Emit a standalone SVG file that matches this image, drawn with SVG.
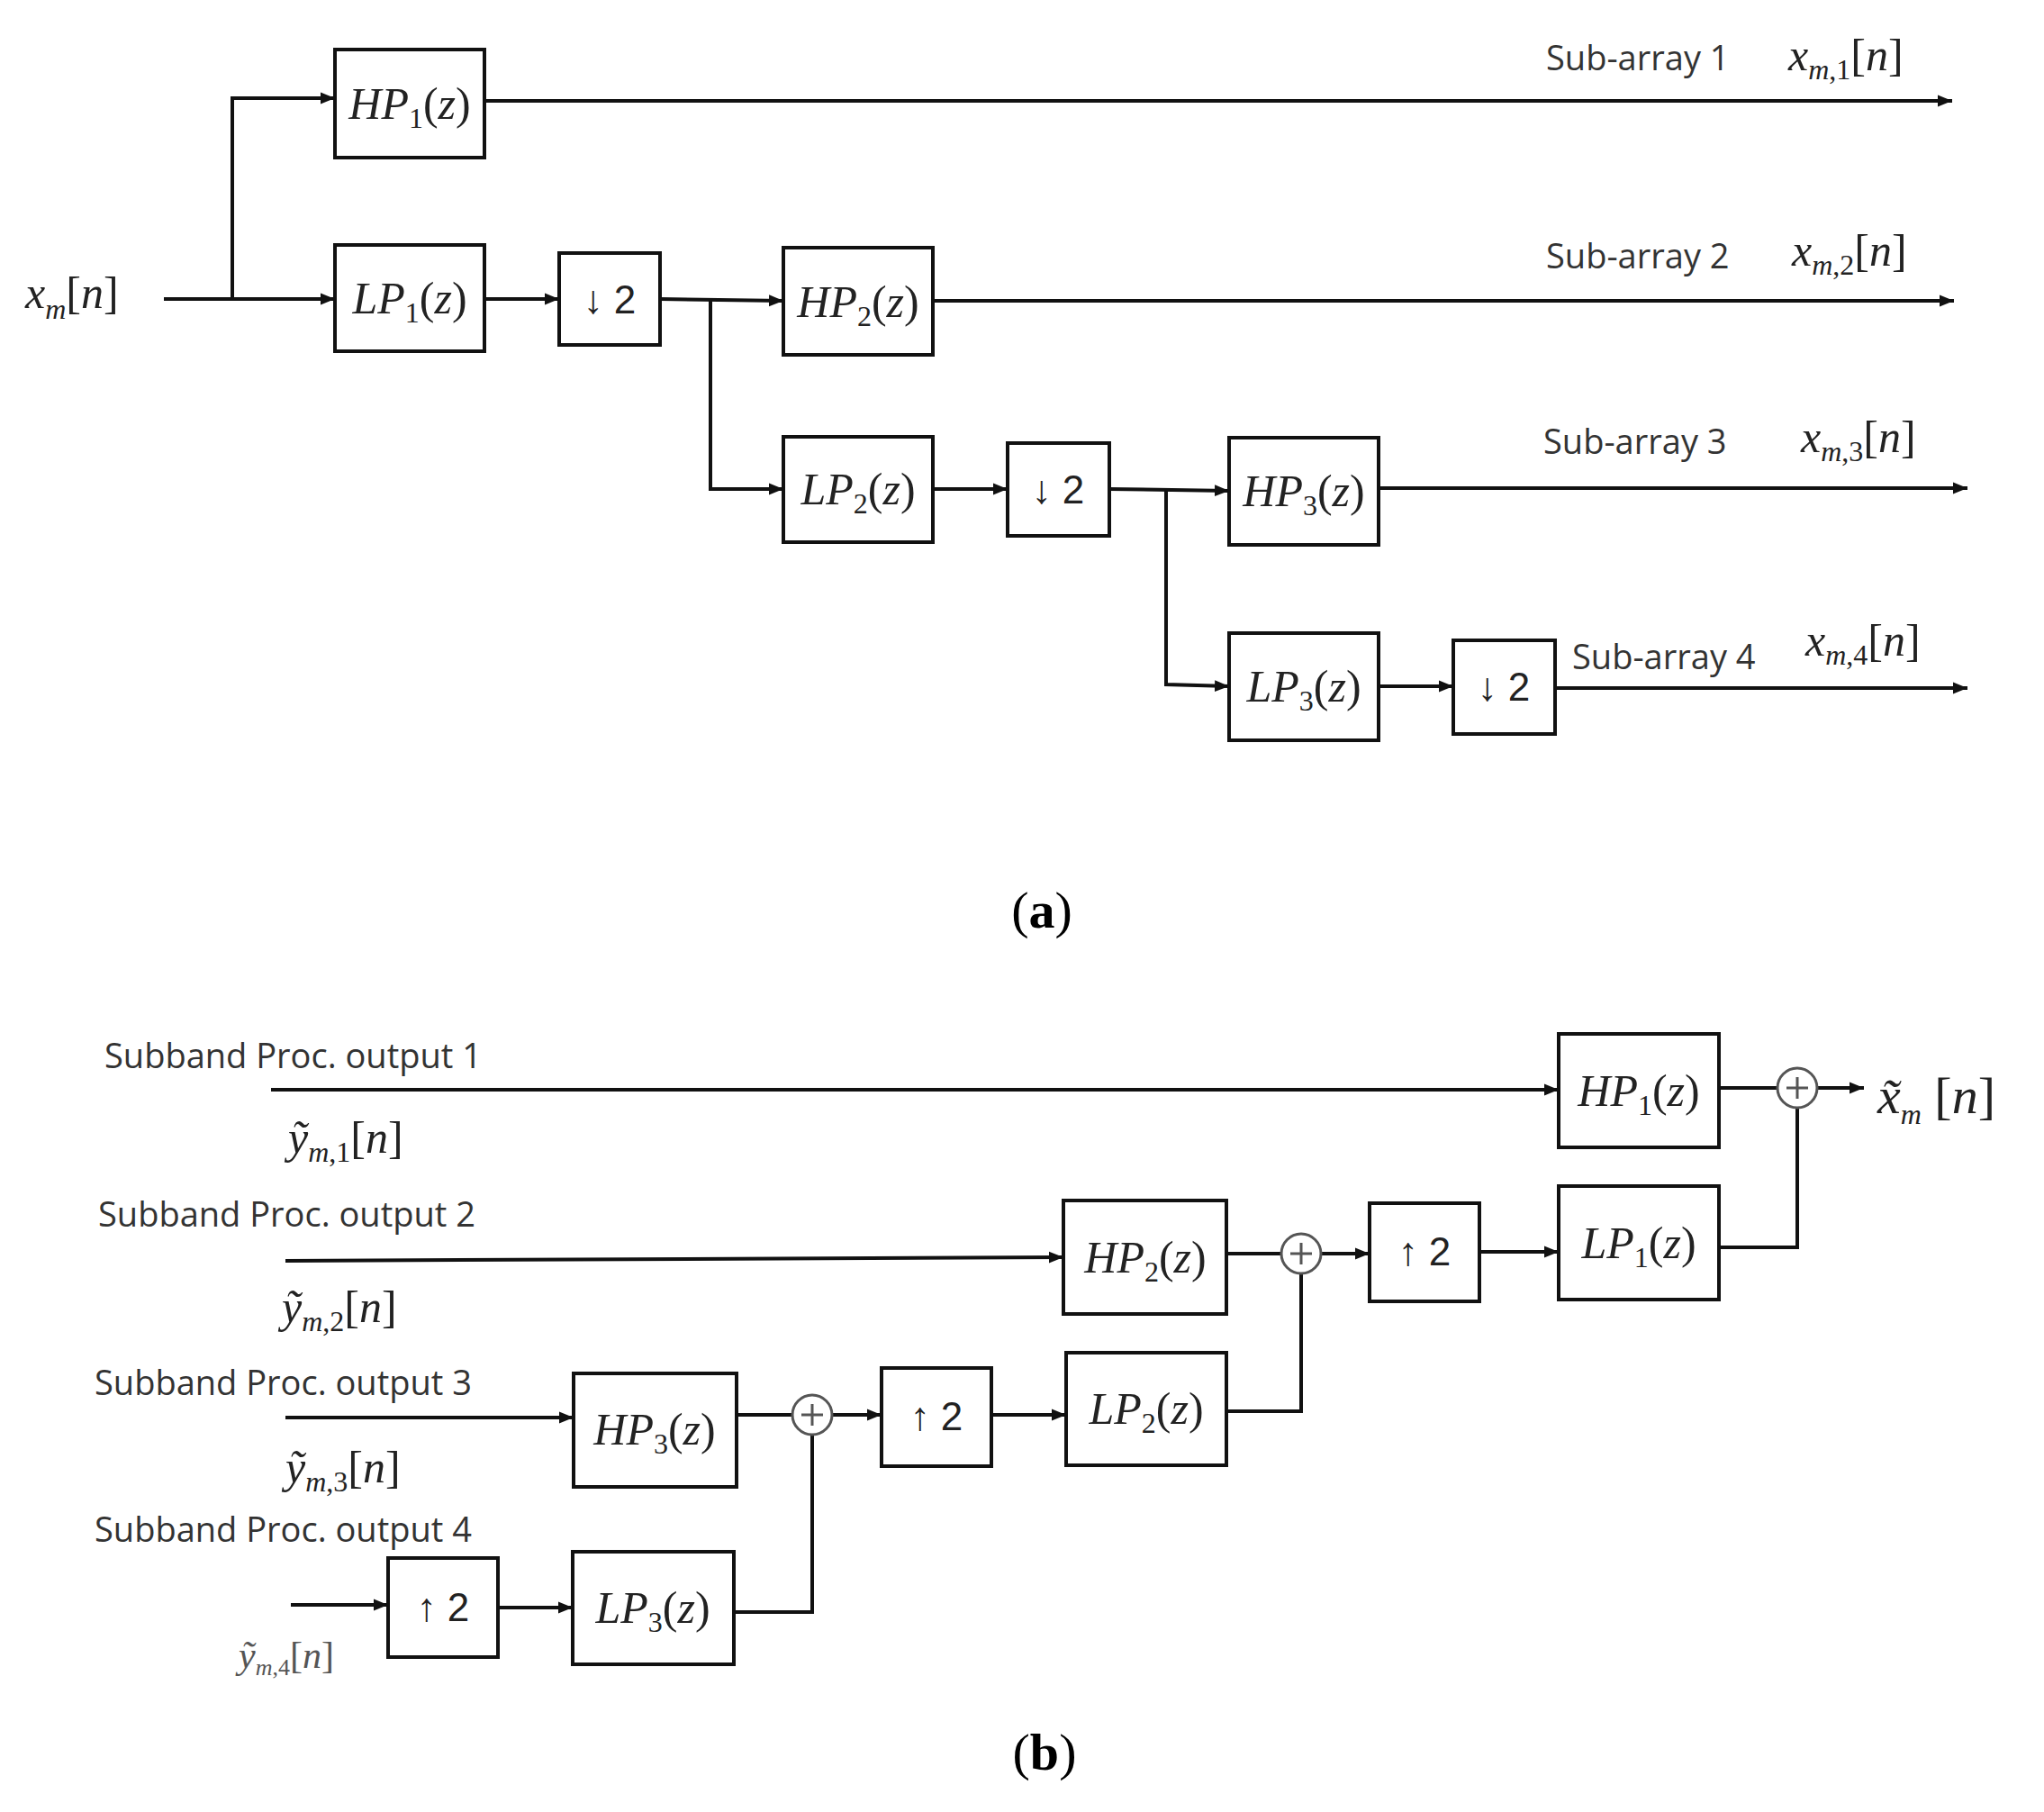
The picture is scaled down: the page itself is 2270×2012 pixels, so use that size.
<svg xmlns="http://www.w3.org/2000/svg" width="2270" height="2012" viewBox="0 0 2270 2012">
<style>
.box{fill:#fff;stroke:#111;stroke-width:4}
.ln{fill:none;stroke:#111;stroke-width:4}
.ar{marker-end:url(#ah)}
.m{font-family:"Liberation Serif",serif;font-size:50px;fill:#222;text-anchor:middle}
.i{font-style:italic}
.s{font-size:32px}
.lab{font-family:"Open Sans","Liberation Sans",sans-serif;font-size:38px;fill:#333}
.sum{fill:#fff;stroke:#555;stroke-width:3}
.pl{stroke:#555;stroke-width:3}
.cap{font-family:"Liberation Serif",serif;font-size:58px;fill:#000;text-anchor:middle}
</style>
<defs>
<marker id="ah" viewBox="0 0 10 10" refX="10" refY="5" markerWidth="4" markerHeight="4" orient="auto" markerUnits="strokeWidth"><path d="M0,1 L10,5 L0,9 z" fill="#111"/></marker>
</defs>
<rect width="2270" height="2012" fill="#fff"/>
<g id="connectors">
<!-- (a) -->
<path class="ln ar" d="M182,332 L372,332"/>
<path class="ln ar" d="M258,332 L258,109 L372,109"/>
<path class="ln ar" d="M538,112 L2168,112"/>
<path class="ln ar" d="M538,332 L621,332"/>
<path class="ln ar" d="M733,332 L870,334"/>
<path class="ln ar" d="M789,332 L789,543 L870,543"/>
<path class="ln ar" d="M1036,334 L2170,334"/>
<path class="ln ar" d="M1036,543 L1119,543"/>
<path class="ln ar" d="M1232,543 L1365,545"/>
<path class="ln ar" d="M1295,543 L1295,760 L1365,762"/>
<path class="ln ar" d="M1531,542 L2185,542"/>
<path class="ln ar" d="M1531,762 L1614,762"/>
<path class="ln ar" d="M1727,764 L2185,764"/>
<!-- (b) -->
<path class="ln ar" d="M301,1210 L1731,1210"/>
<path class="ln" d="M1909,1208 L1974,1208"/>
<path class="ln" d="M1909,1385 L1996,1385 L1996,1230"/>
<path class="ln ar" d="M2018,1208 L2070,1208"/>
<path class="ln ar" d="M317,1400 L1181,1396"/>
<path class="ln" d="M1362,1392 L1423,1392"/>
<path class="ln ar" d="M1467,1392 L1521,1392"/>
<path class="ln ar" d="M1643,1390 L1731,1390"/>
<path class="ln" d="M1362,1567 L1445,1567 L1445,1414"/>
<path class="ln ar" d="M317,1574 L637,1574"/>
<path class="ln" d="M818,1571 L880,1571"/>
<path class="ln ar" d="M924,1571 L979,1571"/>
<path class="ln ar" d="M1101,1571 L1184,1571"/>
<path class="ln ar" d="M323,1782 L431,1782"/>
<path class="ln ar" d="M553,1785 L636,1785"/>
<path class="ln" d="M815,1790 L902,1790 L902,1593"/>
</g>
<!-- (a) nodes -->
<g id="a_hp1"><rect class="box" x="372" y="55" width="166" height="120"/><text class="m" x="455" y="132"><tspan class="i">HP</tspan><tspan class="s" dy="10">1</tspan><tspan dy="-10">(</tspan><tspan class="i">z</tspan>)</text></g>
<g id="a_lp1"><rect class="box" x="372" y="272" width="166" height="118"/><text class="m" x="455" y="348"><tspan class="i">LP</tspan><tspan class="s" dy="10">1</tspan><tspan dy="-10">(</tspan><tspan class="i">z</tspan>)</text></g>
<g id="a_d1"><rect class="box" x="621" y="281" width="112" height="102"/><text class="m" x="677" y="348" style="font-family:'Liberation Sans',sans-serif;font-size:44px">↓ 2</text></g>
<g id="a_hp2"><rect class="box" x="870" y="275" width="166" height="119"/><text class="m" x="953" y="352"><tspan class="i">HP</tspan><tspan class="s" dy="10">2</tspan><tspan dy="-10">(</tspan><tspan class="i">z</tspan>)</text></g>
<g id="a_lp2"><rect class="box" x="870" y="485" width="166" height="117"/><text class="m" x="953" y="560"><tspan class="i">LP</tspan><tspan class="s" dy="10">2</tspan><tspan dy="-10">(</tspan><tspan class="i">z</tspan>)</text></g>
<g id="a_d2"><rect class="box" x="1119" y="492" width="113" height="103"/><text class="m" x="1175" y="559" style="font-family:'Liberation Sans',sans-serif;font-size:44px">↓ 2</text></g>
<g id="a_hp3"><rect class="box" x="1365" y="486" width="166" height="119"/><text class="m" x="1448" y="562"><tspan class="i">HP</tspan><tspan class="s" dy="10">3</tspan><tspan dy="-10">(</tspan><tspan class="i">z</tspan>)</text></g>
<g id="a_lp3"><rect class="box" x="1365" y="703" width="166" height="119"/><text class="m" x="1448" y="779"><tspan class="i">LP</tspan><tspan class="s" dy="10">3</tspan><tspan dy="-10">(</tspan><tspan class="i">z</tspan>)</text></g>
<g id="a_d3"><rect class="box" x="1614" y="711" width="113" height="104"/><text class="m" x="1670" y="778" style="font-family:'Liberation Sans',sans-serif;font-size:44px">↓ 2</text></g>
<g id="a_labels">
<text class="m" x="28" y="342" text-anchor="start" style="text-anchor:start"><tspan class="i">x</tspan><tspan class="s i" dy="12">m</tspan><tspan dy="-12">[</tspan><tspan class="i">n</tspan>]</text>
<text class="lab" x="1717" y="78">Sub-array 1</text>
<text class="m" x="1986" y="78" style="text-anchor:start"><tspan class="i">x</tspan><tspan class="s i" dy="10">m</tspan><tspan class="s">,1</tspan><tspan dy="-10">[</tspan><tspan class="i">n</tspan>]</text>
<text class="lab" x="1717" y="298">Sub-array 2</text>
<text class="m" x="1990" y="295" style="text-anchor:start"><tspan class="i">x</tspan><tspan class="s i" dy="10">m</tspan><tspan class="s">,2</tspan><tspan dy="-10">[</tspan><tspan class="i">n</tspan>]</text>
<text class="lab" x="1714" y="504">Sub-array 3</text>
<text class="m" x="2000" y="502" style="text-anchor:start"><tspan class="i">x</tspan><tspan class="s i" dy="10">m</tspan><tspan class="s">,3</tspan><tspan dy="-10">[</tspan><tspan class="i">n</tspan>]</text>
<text class="lab" x="1746" y="743">Sub-array 4</text>
<text class="m" x="2005" y="728" style="text-anchor:start"><tspan class="i">x</tspan><tspan class="s i" dy="10">m</tspan><tspan class="s">,4</tspan><tspan dy="-10">[</tspan><tspan class="i">n</tspan>]</text>
<text class="cap" x="1157" y="1030">(<tspan font-weight="bold">a</tspan>)</text>
</g>
<!-- (b) nodes -->
<g id="b_hp1"><rect class="box" x="1731" y="1148" width="178" height="126"/><text class="m" x="1820" y="1228"><tspan class="i">HP</tspan><tspan class="s" dy="10">1</tspan><tspan dy="-10">(</tspan><tspan class="i">z</tspan>)</text></g>
<g id="b_lp1"><rect class="box" x="1731" y="1317" width="178" height="126"/><text class="m" x="1820" y="1397"><tspan class="i">LP</tspan><tspan class="s" dy="10">1</tspan><tspan dy="-10">(</tspan><tspan class="i">z</tspan>)</text></g>
<g id="b_sum1"><circle class="sum" cx="1996" cy="1208" r="22"/><path class="pl" d="M1984,1208 H2008 M1996,1196 V1220"/></g>
<g id="b_hp2"><rect class="box" x="1181" y="1333" width="181" height="126"/><text class="m" x="1272" y="1413"><tspan class="i">HP</tspan><tspan class="s" dy="10">2</tspan><tspan dy="-10">(</tspan><tspan class="i">z</tspan>)</text></g>
<g id="b_sum2"><circle class="sum" cx="1445" cy="1392" r="22"/><path class="pl" d="M1433,1392 H1457 M1445,1380 V1404"/></g>
<g id="b_u1"><rect class="box" x="1521" y="1336" width="122" height="109"/><text class="m" x="1582" y="1405" style="font-family:'Liberation Sans',sans-serif;font-size:44px">↑ 2</text></g>
<g id="b_hp3"><rect class="box" x="637" y="1525" width="181" height="126"/><text class="m" x="727" y="1604"><tspan class="i">HP</tspan><tspan class="s" dy="10">3</tspan><tspan dy="-10">(</tspan><tspan class="i">z</tspan>)</text></g>
<g id="b_sum3"><circle class="sum" cx="902" cy="1571" r="22"/><path class="pl" d="M890,1571 H914 M902,1559 V1583"/></g>
<g id="b_u2"><rect class="box" x="979" y="1519" width="122" height="109"/><text class="m" x="1040" y="1588" style="font-family:'Liberation Sans',sans-serif;font-size:44px">↑ 2</text></g>
<g id="b_lp2"><rect class="box" x="1184" y="1502" width="178" height="125"/><text class="m" x="1273" y="1581"><tspan class="i">LP</tspan><tspan class="s" dy="10">2</tspan><tspan dy="-10">(</tspan><tspan class="i">z</tspan>)</text></g>
<g id="b_u3"><rect class="box" x="431" y="1730" width="122" height="110"/><text class="m" x="492" y="1800" style="font-family:'Liberation Sans',sans-serif;font-size:44px">↑ 2</text></g>
<g id="b_lp3"><rect class="box" x="636" y="1723" width="179" height="125"/><text class="m" x="725" y="1802"><tspan class="i">LP</tspan><tspan class="s" dy="10">3</tspan><tspan dy="-10">(</tspan><tspan class="i">z</tspan>)</text></g>
<g id="b_labels">
<text class="lab" x="116" y="1186">Subband Proc. output 1</text>
<text class="lab" x="109" y="1362">Subband Proc. output 2</text>
<text class="lab" x="105" y="1549">Subband Proc. output 3</text>
<text class="lab" x="105" y="1712">Subband Proc. output 4</text>
<text class="m" x="320" y="1280" style="text-anchor:start"><tspan class="i">ỹ</tspan><tspan class="s i" dy="10">m</tspan><tspan class="s">,1</tspan><tspan dy="-10">[</tspan><tspan class="i">n</tspan>]</text>
<text class="m" x="313" y="1468" style="text-anchor:start"><tspan class="i">ỹ</tspan><tspan class="s i" dy="10">m</tspan><tspan class="s">,2</tspan><tspan dy="-10">[</tspan><tspan class="i">n</tspan>]</text>
<text class="m" x="317" y="1646" style="text-anchor:start"><tspan class="i">ỹ</tspan><tspan class="s i" dy="10">m</tspan><tspan class="s">,3</tspan><tspan dy="-10">[</tspan><tspan class="i">n</tspan>]</text>
<text class="m" x="265" y="1852" style="text-anchor:start;font-size:42px;fill:#555"><tspan class="i">ỹ</tspan><tspan class="i" style="font-size:26px" dy="8">m</tspan><tspan style="font-size:26px">,4</tspan><tspan dy="-8">[</tspan><tspan class="i">n</tspan>]</text>
<text class="m" x="2085" y="1236" style="text-anchor:start;font-size:58px"><tspan class="i">x̃</tspan><tspan class="s i" dy="12">m</tspan><tspan dy="-12"> [</tspan><tspan class="i">n</tspan>]</text>
<text class="cap" x="1160" y="1965">(<tspan font-weight="bold">b</tspan>)</text>
</g>
</svg>
